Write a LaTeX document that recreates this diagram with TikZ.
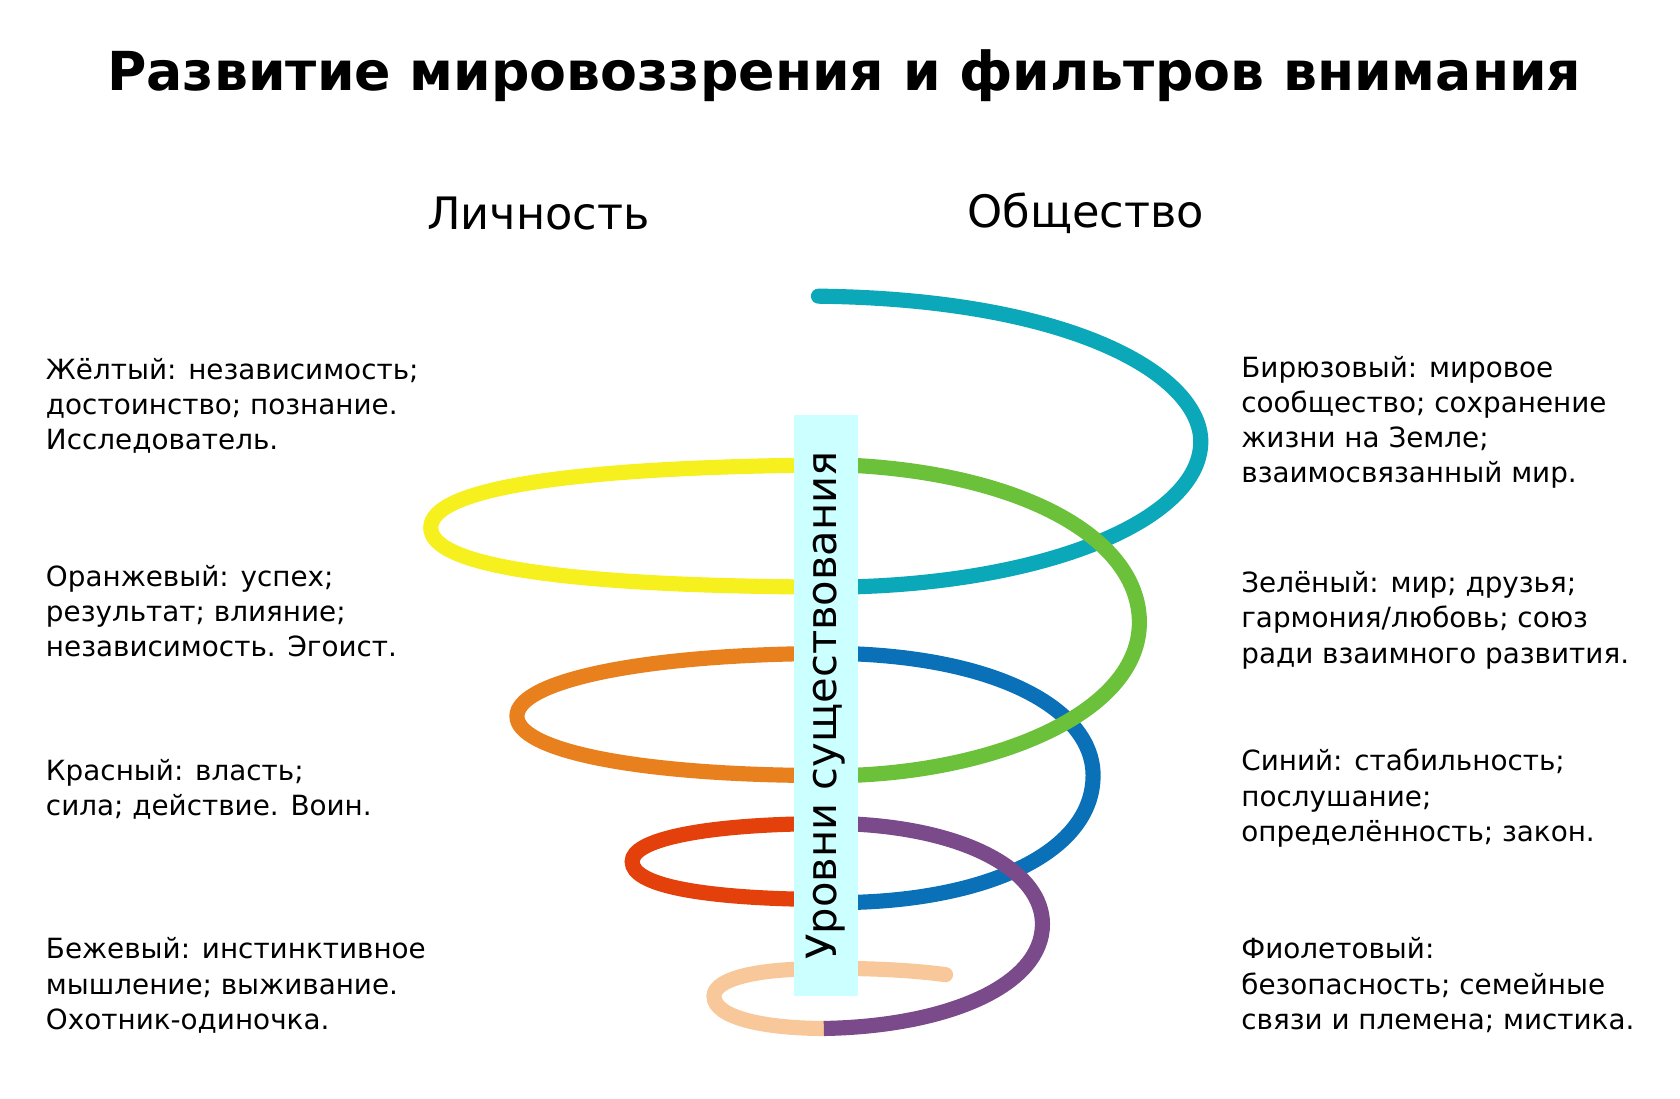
\documentclass[tikz,border=0pt]{standalone}
\usepackage{fontspec}
\setmainfont{DejaVu Sans}
\begin{document}
\begin{tikzpicture}[x=0.1mm,y=-0.1mm,
  sp/.style={line width=4pt,line cap=round},
  txt/.style={anchor=north west,align=left,font=\fontsize{7.35}{9.3}\selectfont,inner sep=0pt},
  head/.style={font=\fontsize{11.8}{14}\selectfont}]
\useasboundingbox (0,0) rectangle (1560,1020);
\definecolor{cteal}{HTML}{0AA8B8}\definecolor{cyel}{HTML}{F5F01E}
\definecolor{cgreen}{HTML}{6CC13A}\definecolor{corange}{HTML}{E8801E}
\definecolor{cblue}{HTML}{0A70B8}\definecolor{cred}{HTML}{E4400C}
\definecolor{cpurple}{HTML}{7A4A8A}\definecolor{cpeach}{HTML}{F8C89A}
\definecolor{cbox}{HTML}{CCFFFF}
\node[font=\fontsize{14.2}{16}\selectfont\bfseries] (title) at (784,70) {Развитие мировоззрения и фильтров внимания};
\node[head] (lich) at (500,198) {Личность};
\node[head] (obsh) at (1008,198) {Общество};
% spiral
\draw[sp,cteal] (760,275) .. controls (1000,278) and (1115,350) .. (1115,410) .. controls (1115,480) and (980,540) .. (790,545);
\draw[sp,cyel,line cap=butt] (745,432) .. controls (520,435) and (400,455) .. (400,490) .. controls (400,525) and (520,543) .. (745,545);
\draw[sp,corange,line cap=butt] (745,607) .. controls (580,610) and (480,635) .. (480,665) .. controls (480,695) and (580,718) .. (745,720);
\draw[sp,cred,line cap=butt] (745,765) .. controls (650,767) and (587,780) .. (587,800) .. controls (587,822) and (650,833) .. (745,835);
\draw[sp,cpeach] (878,905) .. controls (840,900) and (790,898) .. (740,900) .. controls (690,902) and (663,912) .. (663,925) .. controls (663,945) and (710,955) .. (766,955);
\draw[sp,cblue,line cap=butt] (790,607) .. controls (930,612) and (1015,660) .. (1015,720) .. controls (1015,790) and (920,835) .. (790,838);
\draw[sp,cgreen,line cap=butt] (790,432) .. controls (950,440) and (1058,500) .. (1058,578) .. controls (1058,660) and (930,715) .. (790,720);
\draw[sp,cpurple,line cap=butt] (790,765) .. controls (900,770) and (968,810) .. (968,858) .. controls (968,915) and (880,953) .. (765,955);
\node[fill=cbox,minimum width=6mm,minimum height=54mm,inner sep=0pt] (box) at (767,655) {};
\node[rotate=90,font=\fontsize{11}{13}\selectfont] (lvl) at (box.center) {Уровни существования};
% texts
\node[txt] (y) at (42,332) {Жёлтый: независимость;\\достоинство; познание.\\Исследователь.};
\node[txt] (o) at (42,524) {Оранжевый: успех;\\результат; влияние;\\независимость. Эгоист.};
\node[txt] (r) at (42,704) {Красный: власть;\\сила; действие. Воин.};
\node[txt] (b) at (42,870) {Бежевый: инстинктивное\\мышление; выживание.\\Охотник-одиночка.};
\node[txt] (t) at (1152,330) {Бирюзовый: мировое\\сообщество; сохранение\\жизни на Земле;\\взаимосвязанный мир.};
\node[txt] (g) at (1152,530) {Зелёный: мир; друзья;\\гармония/любовь; союз\\ради взаимного развития.};
\node[txt] (s) at (1152,695) {Синий: стабильность;\\послушание;\\определённость; закон.};
\node[txt] (f) at (1152,870) {Фиолетовый:\\безопасность; семейные\\связи и племена; мистика.};
\end{tikzpicture}
\end{document}
